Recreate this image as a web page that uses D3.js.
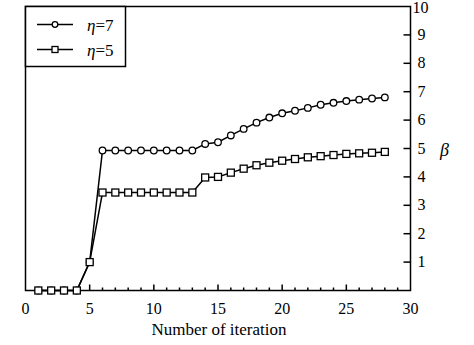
<!DOCTYPE html>
<html><head><meta charset="utf-8">
<script src="https://cdn.jsdelivr.net/npm/d3@7"></script>
<style>body{margin:0;background:#fff}svg{display:block}
svg text{font-family:"Liberation Serif","DejaVu Serif",serif;}</style>
</head><body><svg id="c" width="474" height="345"></svg>
<script>
const iterations = d3.range(1, 29);
const eta7 = [0,0,0,0,1.0,4.93,4.93,4.93,4.93,4.93,4.93,4.93,4.93,5.16,5.22,5.46,5.69,5.91,6.09,6.24,6.33,6.43,6.54,6.61,6.67,6.72,6.76,6.8];
const eta5 = [0,0,0,0,1.0,3.45,3.45,3.45,3.45,3.45,3.45,3.45,3.45,3.98,4.0,4.15,4.29,4.41,4.5,4.57,4.63,4.69,4.73,4.77,4.81,4.83,4.85,4.88];
const xTicks = [0,5,10,15,20,25,30];
const yTicks = [1,2,3,4,5,6,7,8,9,10];
const legendLabels = ["η=7","η=5"];

const svg = d3.select("#c");
const x = d3.scaleLinear().domain([0,30]).range([25.5,410.5]);
const y = d3.scaleLinear().domain([0,10]).range([290.5,6.5]);

// frame
svg.append("rect").attr("x",x(0)).attr("y",y(10)).attr("width",x(30)-x(0)).attr("height",y(0)-y(10))
  .attr("fill","none").attr("stroke","#000").attr("stroke-width",1.5);

// x axis ticks (inward)
const xa = svg.append("g").attr("transform",`translate(0,${y(0)})`);
xa.selectAll("line.minor").data(d3.range(1,30)).join("line")
  .attr("x1",d=>x(d)).attr("x2",d=>x(d)).attr("y1",0).attr("y2",d=>d%5===0?-6:-3)
  .attr("stroke","#000").attr("stroke-width",1.5);
xa.selectAll("text").data(xTicks).join("text")
  .attr("x",d=>x(d)).attr("y",23).attr("text-anchor","middle").attr("font-size",16).text(d=>d);
svg.append("text").attr("x",219).attr("y",335).attr("text-anchor","middle").attr("font-size",17).text("Number of iteration");

// right y axis
const ya = svg.append("g").attr("transform",`translate(${x(30)},0)`);
ya.selectAll("line").data(yTicks.filter(d=>d<10)).join("line")
  .attr("x1",-7).attr("x2",0).attr("y1",d=>y(d)).attr("y2",d=>y(d)).attr("stroke","#000").attr("stroke-width",1.5);
ya.selectAll("text").data(yTicks).join("text")
  .attr("x",d=>d===10?2:7).attr("y",d=>d===10?13:y(d)+5).attr("font-size",16).text(d=>d);
svg.append("text").attr("x",440).attr("y",156).attr("font-size",18).attr("font-style","italic").text("β");

// lines
const line = d3.line().x((d,i)=>x(iterations[i])).y(d=>y(d));
svg.append("path").datum(eta7).attr("d",line).attr("fill","none").attr("stroke","#000").attr("stroke-width",1.5);
svg.append("path").datum(eta5).attr("d",line).attr("fill","none").attr("stroke","#000").attr("stroke-width",1.5);
svg.selectAll("circle.m").data(eta7).join("circle").attr("class","m")
  .attr("cx",(d,i)=>x(iterations[i])).attr("cy",d=>y(d)).attr("r",3.3)
  .attr("fill","#fff").attr("stroke","#000").attr("stroke-width",1.3);
svg.selectAll("rect.m").data(eta5).join("rect").attr("class","m")
  .attr("x",(d,i)=>x(iterations[i])-3.5).attr("y",d=>y(d)-3.5).attr("width",7).attr("height",7)
  .attr("fill","#fff").attr("stroke","#000").attr("stroke-width",1.3);

// legend
const lg = svg.append("g");
lg.append("rect").attr("x",x(0)).attr("y",y(10)).attr("width",100).attr("height",60)
  .attr("fill","#fff").attr("stroke","#000").attr("stroke-width",1.5);
const ly = [24.5,49.5];
ly.forEach((yy,i)=>{
  lg.append("line").attr("x1",37).attr("x2",73).attr("y1",yy).attr("y2",yy).attr("stroke","#000").attr("stroke-width",1.5);
  if(i===0) lg.append("circle").attr("cx",55).attr("cy",yy).attr("r",2.8).attr("fill","#fff").attr("stroke","#000").attr("stroke-width",1.3);
  else lg.append("rect").attr("x",52).attr("y",yy-3).attr("width",6).attr("height",6).attr("fill","#fff").attr("stroke","#000").attr("stroke-width",1.3);
  const t = lg.append("text").attr("x",87).attr("y",yy+6).attr("font-size",17);
  t.append("tspan").attr("font-style","italic").text(legendLabels[i].slice(0,1));
  t.append("tspan").text(legendLabels[i].slice(1));
});
</script></body></html>
